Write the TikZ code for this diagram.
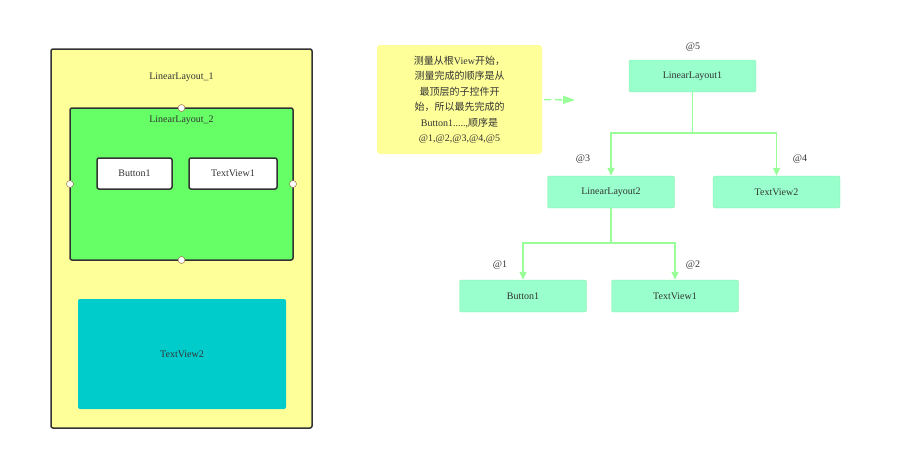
\documentclass[tikz,border=0pt]{standalone}
\usepackage{fontspec}
\setmainfont{Liberation Serif}
\newfontfamily\cjk{Noto Sans CJK SC}
\usetikzlibrary{arrows.meta}
\definecolor{lyel}{HTML}{FFFF99}
\definecolor{lgrn}{HTML}{66FF66}
\definecolor{teal2}{HTML}{00CCCC}
\definecolor{aq}{HTML}{99FFCC}
\definecolor{aqb}{HTML}{88EEAA}
\definecolor{conn}{HTML}{99FF99}
\definecolor{dk}{HTML}{333333}
\begin{document}
\begin{tikzpicture}[x=1pt,y=-1pt,font=\fontsize{10}{12}\selectfont,
 tn/.style={draw=aqb,fill=aq,rounded corners=2pt,minimum width=127pt,minimum height=32pt,inner sep=0pt,text=dk},
 cn/.style={draw=conn,line width=1.5pt,-{Triangle[length=8pt,width=7pt]}},
 hd/.style={circle,draw=brown!70!black,fill=white,inner sep=0pt,minimum size=7pt},
 lab/.style={text=dk}]
\useasboundingbox (0,0) rectangle (900,458);
% left mockup
\draw[dk,line width=1.5pt,fill=lyel,rounded corners=2pt] (51,49) rectangle (312,428);
\node[lab] (t1) at (181.5,77) {LinearLayout\_1};
\draw[dk,line width=1.5pt,fill=lgrn,rounded corners=2pt] (70,108) rectangle (293,260);
\node[lab] (t2) at (181.5,120) {LinearLayout\_2};
\node[draw=dk,line width=1.5pt,fill=white,rounded corners=2pt,minimum width=75pt,minimum height=31pt,inner sep=0pt,text=dk] (b1) at (134.5,173.5) {Button1};
\node[draw=dk,line width=1.5pt,fill=white,rounded corners=2pt,minimum width=88pt,minimum height=31pt,inner sep=0pt,text=dk] (tv1) at (233,173.5) {TextView1};
\node[fill=teal2,rounded corners=2pt,minimum width=208pt,minimum height=110pt,inner sep=0pt,text=dk] (tv2) at (182,354) {TextView2};
\node[hd] (h1) at (181.5,108) {};
\node[hd] (h2) at (181.5,260) {};
\node[hd] (h3) at (70,184) {};
\node[hd] (h4) at (293,184) {};
% note
\node[fill=lyel,rounded corners=3pt,minimum width=165pt,minimum height=109pt,inner sep=0pt,text=dk,align=center,
 font=\fontsize{10}{15.5}\selectfont] (note) at (459.5,99.5)
 {{\cjk 测量从根}View{\cjk 开始，}\\{\cjk 测量完成的顺序是从}\\{\cjk 最顶层的子控件开}\\{\cjk 始，所以最先完成的}\\Button1.....,{\cjk 顺序是}\\@1,@2,@3,@4,@5};
\coordinate (ae) at (575,100);
\draw[conn,line width=1.5pt,dash pattern=on 7pt off 4pt,-{Triangle[length=12pt,width=8pt]}] (note.east) ++(2,0) -- (ae);
% tree
\node[tn] (L1) at (692.5,76) {LinearLayout1};
\node[tn] (L2) at (611,192) {LinearLayout2};
\node[tn] (T2) at (776.5,192) {TextView2};
\node[tn] (B) at (523,296) {Button1};
\node[tn] (T1) at (675,296) {TextView1};
\node[lab] at (693,47) {@5};
\node[lab] at (583,159) {@3};
\node[lab] at (800,159) {@4};
\node[lab] at (500,265) {@1};
\node[lab] at (693,265) {@2};
\draw[cn] (L1.south) -- ++(0,41) -| (L2.north);
\draw[cn] (L1.south) -- ++(0,41) -| (T2.north);
\draw[cn] (L2.south) -- ++(0,35) -| (B.north);
\draw[cn] (L2.south) -- ++(0,35) -| (T1.north);
\end{tikzpicture}
\end{document}
